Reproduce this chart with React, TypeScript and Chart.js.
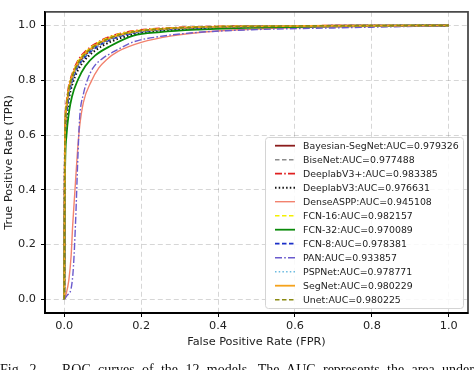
import React, { useEffect, useRef } from "react";
import { Chart, registerables } from "chart.js";

Chart.register(...registerables);

// ---------- data ----------
const X_TICKS = [0, 0.2, 0.4, 0.6, 0.8, 1.0];
const Y_TICKS = [0, 0.2, 0.4, 0.6, 0.8, 1.0];

const MODEL_NAMES = [
  "Bayesian-SegNet",
  "BiseNet",
  "DeeplabV3+",
  "DeeplabV3",
  "DenseASPP",
  "FCN-16",
  "FCN-32",
  "FCN-8",
  "PAN",
  "PSPNet",
  "SegNet",
  "Unet",
];
const AUC_VALUES = [
  "0.979326",
  "0.977488",
  "0.983385",
  "0.976631",
  "0.945108",
  "0.982157",
  "0.970089",
  "0.978381",
  "0.933857",
  "0.978771",
  "0.980229",
  "0.980225",
];

const FPR_GRID = [0, 0.002, 0.006, 0.012, 0.02, 0.035, 0.055, 0.08, 0.12, 0.18, 0.25, 0.35, 0.5, 0.7, 1.0];
const TPR_BAYESIAN = [0, 0.58, 0.7, 0.765, 0.806, 0.856, 0.893, 0.923, 0.953, 0.976, 0.986, 0.993, 0.997, 0.999, 1.0];
const TPR_BISENET = [0, 0.56, 0.68, 0.745, 0.792, 0.846, 0.885, 0.916, 0.947, 0.972, 0.984, 0.992, 0.996, 0.999, 1.0];
const TPR_DEEPLABV3P = [0, 0.6, 0.72, 0.78, 0.82, 0.87, 0.905, 0.932, 0.96, 0.98, 0.989, 0.995, 0.998, 0.999, 1.0];
const TPR_DEEPLABV3 = [0, 0.55, 0.66, 0.73, 0.78, 0.835, 0.876, 0.908, 0.94, 0.967, 0.98, 0.99, 0.995, 0.998, 1.0];
const TPR_FCN16 = [0, 0.59, 0.71, 0.775, 0.815, 0.866, 0.902, 0.93, 0.958, 0.979, 0.988, 0.994, 0.998, 0.999, 1.0];
const TPR_FCN32 = [0, 0.45, 0.6, 0.68, 0.74, 0.8, 0.852, 0.89, 0.925, 0.963, 0.976, 0.985, 0.992, 0.997, 1.0];
const TPR_FCN8 = [0, 0.565, 0.685, 0.75, 0.797, 0.85, 0.888, 0.918, 0.949, 0.973, 0.985, 0.992, 0.997, 0.999, 1.0];
const TPR_PSPNET = [0, 0.57, 0.69, 0.755, 0.8, 0.852, 0.89, 0.92, 0.95, 0.974, 0.985, 0.993, 0.997, 0.999, 1.0];
const TPR_SEGNET = [0, 0.585, 0.705, 0.77, 0.812, 0.862, 0.898, 0.927, 0.955, 0.977, 0.987, 0.994, 0.997, 0.999, 1.0];
const TPR_UNET = [0, 0.59, 0.705, 0.768, 0.81, 0.86, 0.897, 0.926, 0.955, 0.977, 0.987, 0.994, 0.997, 0.999, 1.0];

const FPR_DENSEASPP = [0, 0.005, 0.012, 0.018, 0.022, 0.028, 0.034, 0.04, 0.05, 0.07, 0.09, 0.11, 0.14, 0.2, 0.28, 0.4, 0.6, 0.8, 1.0];
const TPR_DENSEASPP = [0, 0.02, 0.07, 0.16, 0.27, 0.4, 0.53, 0.63, 0.72, 0.795, 0.845, 0.875, 0.905, 0.938, 0.962, 0.98, 0.992, 0.997, 1.0];

const FPR_PAN = [0, 0.008, 0.018, 0.024, 0.03, 0.035, 0.04, 0.05, 0.06, 0.075, 0.1, 0.13, 0.18, 0.25, 0.35, 0.5, 0.7, 0.85, 1.0];
const TPR_PAN = [0, 0.015, 0.04, 0.12, 0.3, 0.5, 0.66, 0.75, 0.8, 0.845, 0.88, 0.905, 0.94, 0.96, 0.975, 0.985, 0.991, 0.995, 1.0];

const SERIES_FPR = [
  FPR_GRID, FPR_GRID, FPR_GRID, FPR_GRID, FPR_DENSEASPP, FPR_GRID,
  FPR_GRID, FPR_GRID, FPR_PAN, FPR_GRID, FPR_GRID, FPR_GRID,
];
const SERIES_TPR = [
  TPR_BAYESIAN, TPR_BISENET, TPR_DEEPLABV3P, TPR_DEEPLABV3, TPR_DENSEASPP, TPR_FCN16,
  TPR_FCN32, TPR_FCN8, TPR_PAN, TPR_PSPNET, TPR_SEGNET, TPR_UNET,
];

// ---------- styles ----------
const DASHED = [4.5, 2.5];
const DASHDOT = [7, 2.2, 1.6, 2.2];
const DOTTED = [1.5, 2.2];
const COLORS = [
  "#8b1c1c", "#8c8c8c", "#e02020", "#111111", "#f2826e", "#f4f000",
  "#0a8a0a", "#1a2fc8", "#6a5acd", "#6cbbe0", "#f5a21c", "#8a8a10",
];
const DASHES = [[], DASHED, DASHDOT, DOTTED, [], DASHED, [], DASHED, DASHDOT, DOTTED, [], DASHED];
const WIDTHS = [1.8, 1.6, 1.8, 2, 1.4, 1.6, 1.8, 1.8, 1.4, 1.6, 1.8, 1.6];

const FONT = '"DejaVu Sans", "Liberation Sans", sans-serif';

const framePlugin = {
  id: "frame",
  afterDatasetsDraw(chart: any) {
    const { ctx, chartArea: a } = chart;
    ctx.save();
    ctx.strokeStyle = "#4a4a4a";
    ctx.lineWidth = 1.8;
    ctx.beginPath();
    ctx.moveTo(a.left, a.top);
    ctx.lineTo(a.right, a.top);
    ctx.lineTo(a.right, a.bottom);
    ctx.stroke();
    ctx.strokeStyle = "#000";
    ctx.beginPath();
    ctx.moveTo(a.left, a.top);
    ctx.lineTo(a.left, a.bottom);
    ctx.lineTo(a.right, a.bottom);
    ctx.stroke();
    ctx.restore();
  },
};

const legendPlugin = {
  id: "mplLegend",
  afterDraw(chart: any) {
    const { ctx } = chart;
    const x0 = 265, y0 = 137, x1 = 463, y1 = 308;
    ctx.save();
    ctx.beginPath();
    (ctx as any).roundRect(x0 + 0.5, y0 + 0.5, x1 - x0, y1 - y0, 3);
    ctx.fillStyle = "rgba(255,255,255,0.85)";
    ctx.fill();
    ctx.strokeStyle = "#d4d4d4";
    ctx.lineWidth = 1;
    ctx.stroke();
    ctx.font = `9.4px ${FONT}`;
    ctx.textBaseline = "middle";
    ctx.textAlign = "left";
    MODEL_NAMES.forEach((name, i) => {
      const y = 145.7 + 14 * i;
      ctx.beginPath();
      ctx.setLineDash(DASHES[i]);
      ctx.strokeStyle = COLORS[i];
      ctx.lineWidth = WIDTHS[i];
      ctx.moveTo(275, y);
      ctx.lineTo(295, y);
      ctx.stroke();
      ctx.setLineDash([]);
      ctx.fillStyle = "#222";
      ctx.fillText(`${name}:AUC=${AUC_VALUES[i]}`, 303, y + 0.5);
    });
    ctx.restore();
  },
};

export default function App() {
  const ref = useRef<HTMLCanvasElement | null>(null);

  useEffect(() => {
    if (!ref.current) return;
    const n = MODEL_NAMES.length;
    const datasets = MODEL_NAMES.map((name, i) => ({
      label: name,
      data: SERIES_FPR[i].map((x, j) => ({ x, y: SERIES_TPR[i][j] })),
      borderColor: COLORS[i],
      backgroundColor: COLORS[i],
      borderWidth: WIDTHS[i],
      borderDash: DASHES[i],
      pointRadius: 0,
      fill: false,
      cubicInterpolationMode: "monotone" as const,
      order: n - i,
    }));

    const tickFont = { family: FONT, size: 11.3 };
    const chart = new Chart(ref.current, {
      type: "line",
      data: { datasets },
      options: {
        responsive: false,
        animation: false,
        devicePixelRatio: 1,
        layout: { padding: { top: 2, right: 6, left: 0, bottom: 0 } },
        plugins: { legend: { display: false }, tooltip: { enabled: false } },
        scales: {
          x: {
            type: "linear",
            min: -0.05,
            max: 1.05,
            afterBuildTicks: (s: any) => {
              s.ticks = X_TICKS.map((v) => ({ value: v }));
            },
            afterFit: (s: any) => {
              s.height = 57;
            },
            ticks: {
              color: "#222",
              font: tickFont,
              padding: 2,
              maxRotation: 0,
              callback: (v: any) => Number(v).toFixed(1),
            },
            grid: {
              color: "rgba(0,0,0,0.16)",
              lineWidth: 1,
              tickColor: "#000",
              tickLength: 4,
              tickWidth: 1,
            },
            border: { display: true, color: "#000", width: 1.8, dash: [5, 3] },
            title: {
              display: true,
              text: "False Positive Rate (FPR)",
              color: "#222",
              font: tickFont,
              padding: { top: 0, bottom: 21 },
            },
          },
          y: {
            type: "linear",
            min: -0.05,
            max: 1.05,
            afterBuildTicks: (s: any) => {
              s.ticks = Y_TICKS.map((v) => ({ value: v }));
            },
            afterFit: (s: any) => {
              s.width = 45;
            },
            ticks: {
              color: "#222",
              font: tickFont,
              padding: 5,
              callback: (v: any) => Number(v).toFixed(1),
            },
            grid: {
              color: "rgba(0,0,0,0.16)",
              lineWidth: 1,
              tickColor: "#000",
              tickLength: 4,
              tickWidth: 1,
            },
            border: { display: true, color: "#000", width: 1.8, dash: [5, 3] },
            title: {
              display: true,
              text: "True Positive Rate (TPR)",
              color: "#222",
              font: tickFont,
              padding: { top: 2, bottom: 0 },
            },
          },
        },
      },
      plugins: [framePlugin, legendPlugin],
    });
    return () => chart.destroy();
  }, []);

  return (
    <div
      style={{
        position: "fixed",
        left: 0,
        top: 0,
        width: 474,
        height: 370,
        overflow: "hidden",
        background: "#fff",
      }}
    >
      <canvas ref={ref} width={474} height={370} style={{ display: "block" }} />
      <div
        style={{
          position: "absolute",
          left: 0,
          top: 363,
          width: 474,
          fontFamily: '"Liberation Serif", "DejaVu Serif", serif',
          fontSize: 14,
          lineHeight: "14px",
          textAlign: "justify",
          textAlignLast: "justify",
          color: "#111",
        }}
      >
        Fig. 2.&nbsp;&nbsp; ROC curves of the 12 models. The AUC represents the area under
      </div>
    </div>
  );
}
